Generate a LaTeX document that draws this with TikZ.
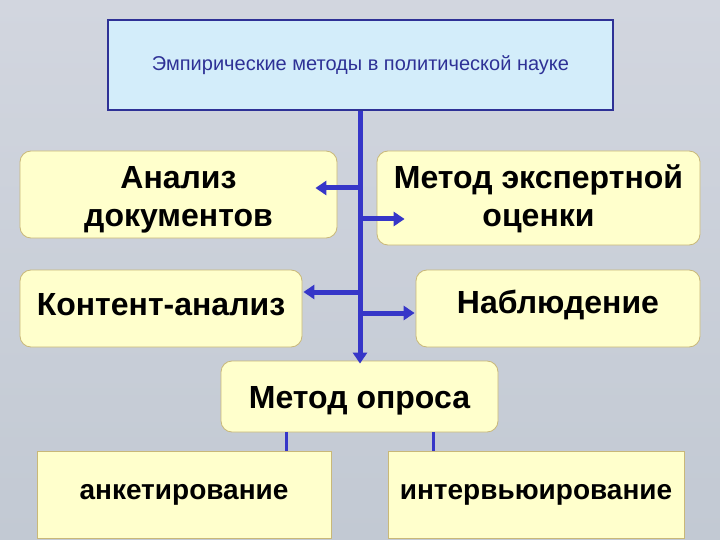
\documentclass[tikz,border=0pt]{standalone}
\usepackage{fontspec}
\setmainfont{Liberation Sans}
\usetikzlibrary{arrows.meta}
\definecolor{bgtop}{HTML}{D2D6DF}
\definecolor{bgbot}{HTML}{C2C9D3}
\definecolor{headfill}{HTML}{D3EDFA}
\definecolor{headline}{HTML}{2E3196}
\definecolor{boxfill}{HTML}{FFFFCC}
\definecolor{boxline}{HTML}{C9B878}
\definecolor{arrblue}{HTML}{3636C8}
\newcommand{\lift}[2]{\raisebox{#1}[\height][\depth]{#2}}
\begin{document}
\begin{tikzpicture}[
    x=1pt, y=-1pt,
    every node/.style={align=center},
    head/.style={draw=headline, line width=1.6pt, fill=headfill, text=headline,
        minimum width=505pt, minimum height=90pt, font=\fontsize{20}{24}\selectfont},
    method/.style={draw=boxline, line width=0.8pt, fill=boxfill, rounded corners=11pt,
        inner sep=0pt, font=\fontsize{32}{38}\selectfont\bfseries},
    sub/.style={draw=boxline, line width=0.8pt, fill=boxfill,
        minimum width=294pt, minimum height=87pt, font=\fontsize{28}{33}\selectfont\bfseries},
    arr/.style={arrblue, line width=5pt, -{Triangle[width=14pt,length=11pt]}},
    stub/.style={arrblue, line width=3pt}
]
\shade[top color=bgtop, bottom color=bgbot] (0,0) rectangle (720,540);

\node[head] (top) at (360.5,65) {Эмпирические методы в политической науке};

\node[method, minimum width=317pt, minimum height=87pt] (docs) at (178.5,194.5)
    {\lift{-5pt}{\begin{tabular}{@{}c@{}}Анализ\\документов\end{tabular}}};
\node[method, minimum width=323pt, minimum height=94pt] (expert) at (538.5,198)
    {\lift{-2pt}{\begin{tabular}{@{}c@{}}Метод экспертной\\оценки\end{tabular}}};
\node[method, minimum width=282pt, minimum height=77pt] (content) at (161,308.5) {\lift{4pt}{Контент-анализ}};
\node[method, minimum width=284pt, minimum height=77pt] (observ) at (558,308.5) {\lift{4pt}{Наблюдение}};
\node[method, minimum width=277pt, minimum height=71pt] (survey) at (359.5,396.5) {\lift{-4pt}{Метод опроса}};

\node[sub] (quest) at (184,494.5) {анкетирование};
\node[sub, minimum width=296pt] (interv) at (536,494.5) {интервьюирование};

% trunk and branches
\coordinate (b1) at (360,188);
\coordinate (b2) at (360,219);
\coordinate (b3) at (360,292);
\coordinate (b4) at (360,313);
\draw[arr] (top.south -| b1) -- ([yshift=-3pt]survey.north -| b1);
\draw[arr] (b1) -- ([xshift=-22pt]b1 -| docs.east);
\draw[arr] (b2) -- ([xshift=28pt]b2 -| expert.west);
\draw[arr] (b3) -- ([xshift=1pt]b3 -| content.east);
\draw[arr] (b4) -- ([xshift=-1pt]b4 -| observ.west);

\draw[stub] (survey.south -| 286,0) -- (quest.north -| 286,0);
\draw[stub] (survey.south -| 433,0) -- (interv.north -| 433,0);
\end{tikzpicture}
\end{document}
